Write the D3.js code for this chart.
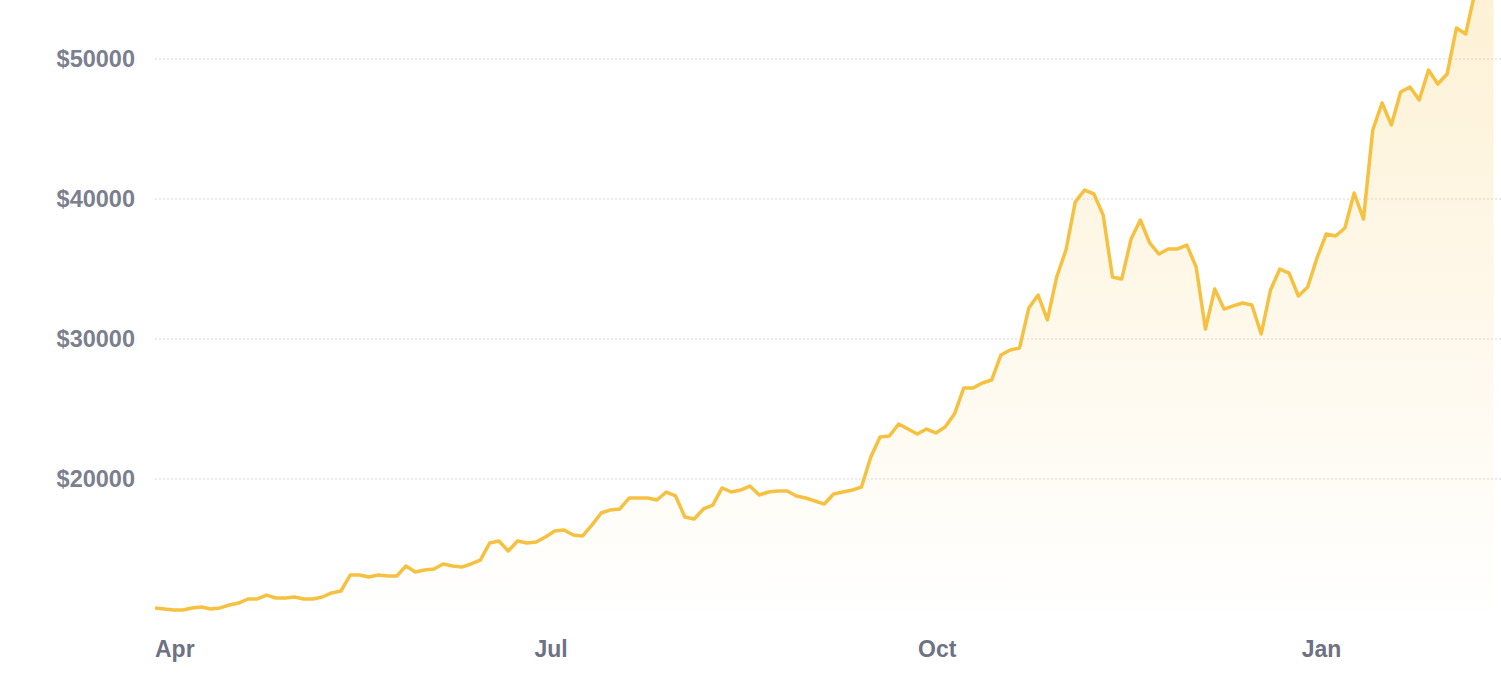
<!DOCTYPE html>
<html>
<head>
<meta charset="utf-8">
<script src="https://cdn.jsdelivr.net/npm/d3@7"></script>
<style>
  body { margin: 0; background: #fff; }
  svg { display: block; font-family: "Helvetica Neue", "Liberation Sans", Arial, sans-serif; }
</style>
</head>
<body>
<svg></svg>
<script>
const width = 1501;
const height = 677;

// Price values, evenly spaced in time from Apr 1 to mid-Feb
const prices = [
  10790, 10710, 10640, 10640, 10790, 10860, 10710, 10790, 11000, 11140,
  11430, 11430, 11710, 11500, 11500, 11570, 11430, 11430, 11570, 11860,
  12000, 13140, 13140, 13000, 13140, 13070, 13070, 13790, 13360, 13500,
  13570, 13930, 13790, 13710, 13930, 14210, 15430, 15570, 14860, 15570,
  15430, 15500, 15860, 16290, 16360, 16000, 15930, 16710, 17570, 17790,
  17860, 18640, 18640, 18640, 18500, 19070, 18790, 17290, 17140, 17860,
  18140, 19360, 19070, 19210, 19500, 18860, 19070, 19140, 19140, 18790,
  18640, 18430, 18210, 18930, 19070, 19210, 19430, 21570, 23000, 23070,
  23930, 23570, 23210, 23570, 23290, 23710, 24640, 26500, 26500, 26860,
  27070, 28860, 29210, 29360, 32210, 33140, 31360, 34430, 36360, 39790,
  40640, 40360, 38860, 34430, 34290, 37140, 38500, 36860, 36070, 36430,
  36430, 36710, 35140, 30710, 33570, 32140, 32360, 32570, 32430, 30360,
  33500, 35000, 34710, 33070, 33710, 35790, 37500, 37360, 37930, 40430,
  38570, 44930, 46860, 45290, 47640, 48000, 47070, 49210, 48210, 48930,
  52210, 51790, 54790, 57500, 57000
];
const startDate = new Date(2020, 3, 1);
const endDate = new Date(2021, 1, 16);
const yTicks = [20000, 30000, 40000, 50000];
const xTicks = [new Date(2020, 3, 1), new Date(2020, 6, 1), new Date(2020, 9, 1), new Date(2021, 0, 1)];

const step = (endDate - startDate) / (prices.length - 1);
const data = prices.map((v, i) => ({ date: new Date(+startDate + i * step), value: v }));

const svg = d3.select("svg")
    .attr("width", width)
    .attr("height", height);

const x = d3.scaleTime()
    .domain([startDate, endDate])
    .range([155, 155 + 1320 * (prices.length - 1) / 142]);

const y = d3.scaleLinear()
    .domain([10000, 50000])
    .range([619, 59]);

// Gradient for the area fill
const grad = svg.append("defs").append("linearGradient")
    .attr("id", "fill-grad")
    .attr("gradientUnits", "userSpaceOnUse")
    .attr("x1", 0).attr("y1", 0)
    .attr("x2", 0).attr("y2", 620);
grad.append("stop").attr("offset", "0%").attr("stop-color", "#f7c244").attr("stop-opacity", 0.22);
grad.append("stop").attr("offset", "100%").attr("stop-color", "#f7c244").attr("stop-opacity", 0);

// Grid lines
svg.append("g")
    .selectAll("line")
    .data(yTicks)
    .join("line")
    .attr("x1", 155)
    .attr("x2", width)
    .attr("y1", d => y(d))
    .attr("y2", d => y(d))
    .attr("stroke", "#d5d8e2")
    .attr("stroke-width", 1.2)
    .attr("stroke-dasharray", "2,2");

// Y labels
svg.append("g")
    .selectAll("text")
    .data(yTicks)
    .join("text")
    .attr("x", 135)
    .attr("y", d => y(d))
    .attr("dy", "0.36em")
    .attr("text-anchor", "end")
    .attr("fill", "#7b7f8e")
    .attr("font-size", 23.5)
    .attr("font-weight", "bold")
    .text(d => "$" + d);

// X labels
svg.append("g")
    .selectAll("text")
    .data(xTicks)
    .join("text")
    .attr("x", d => x(d))
    .attr("y", 657)
    .attr("fill", "#6e7283")
    .attr("font-size", 23)
    .attr("font-weight", "bold")
    .text(d => d3.timeFormat("%b")(d));

// Area and line
const area = d3.area()
    .x(d => x(d.date))
    .y0(619)
    .y1(d => y(d.value));

const line = d3.line()
    .x(d => x(d.date))
    .y(d => y(d.value));

svg.append("path")
    .datum(data)
    .attr("d", area)
    .attr("fill", "url(#fill-grad)");

svg.append("path")
    .datum(data)
    .attr("d", line)
    .attr("fill", "none")
    .attr("stroke", "#f6c140")
    .attr("stroke-width", 3.5)
    .attr("stroke-linejoin", "round");
</script>
</body>
</html>
